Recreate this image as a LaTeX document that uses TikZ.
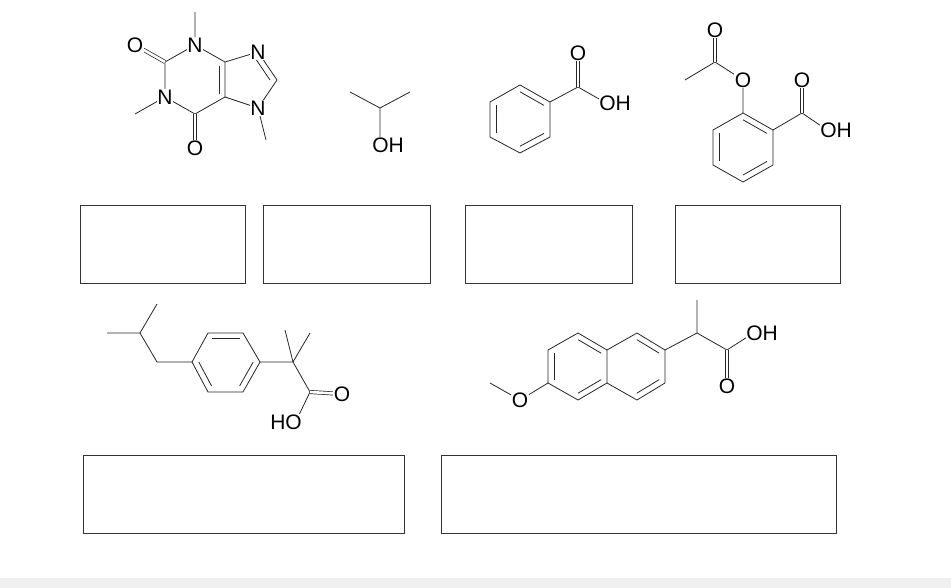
\documentclass[tikz,border=0pt]{standalone}
\usepackage{fontspec}
\setmainfont{Liberation Sans}
\usetikzlibrary{calc}
\begin{document}
\begin{tikzpicture}[x=1pt,y=-1pt,line width=0.8pt,
  bd/.style={draw=black!85},
  dbl/.style={draw=black!85,double,double distance=2.6pt,line width=0.7pt},
  lab/.style={fill=white,inner sep=0.6pt,font=\fontsize{21}{21}\selectfont},
  ansbox/.style={draw=black!80,line width=0.8pt}]
\useasboundingbox (0,0) rectangle (951,588);
\fill[black!6] (0,578) rectangle (951,588);
% boxes
\draw[ansbox] (80,205) rectangle (245,283);
\draw[ansbox] (263,205) rectangle (430,283);
\draw[ansbox] (465,205) rectangle (632,283);
\draw[ansbox] (675,205) rectangle (840,283);
\draw[ansbox] (83,455) rectangle (404,533);
\draw[ansbox] (441,455) rectangle (836,533);
% ===== caffeine
\coordinate (C2) at (165,62); \coordinate (N3) at (195,45); \coordinate (C4) at (225,62);
\coordinate (C5) at (225,97); \coordinate (C6) at (195,114); \coordinate (N1) at (165,97);
\coordinate (N9) at (258,52); \coordinate (C8) at (277,80); \coordinate (N7) at (258,108);
\coordinate (O2) at (135,45); \coordinate (O6) at (195,148);
\coordinate (M3) at (195,12); \coordinate (M1) at (135,114); \coordinate (M7) at (266,140);
\coordinate (cf) at (195,80); \coordinate (cg) at (249,80);
\draw[bd] (C2)--(N3)--(C4)--(C5)--(C6)--(N1)--(C2);
\draw[bd] (C4)--(N9)--(C8)--(N7)--(C5);
\draw[bd] (N3)--(M3) (N1)--(M1) (N7)--(M7);
\draw[dbl] (C2)--(O2); \draw[dbl] (C6)--(O6);
\draw[bd] ($(C4)!0.2!(cf)$)--($(C5)!0.2!(cf)$);
\draw[bd] ($(N9)!0.25!(cg)$)--($(C8)!0.25!(cg)$);
\node[lab] (lN3) at (N3) {N}; \node[lab] (lN1) at (N1) {N};
\node[lab] (lN9) at (N9) {N}; \node[lab] (lN7) at (N7) {N};
\node[lab] (lO2) at (O2) {O}; \node[lab] (lO6) at (O6) {O};
% ===== isopropanol
\coordinate (ia) at (350,92); \coordinate (ib) at (380,108); \coordinate (ic) at (410,92);
\coordinate (io) at (380,140);
\draw[bd] (ia)--(ib)--(ic) (ib)--(io);
\node[lab] (lio) at (388,145) {OH};
% ===== benzoic acid
\coordinate (b1) at (520,85); \coordinate (b2) at (550,102); \coordinate (b3) at (550,137);
\coordinate (b4) at (520,153); \coordinate (b5) at (490,137); \coordinate (b6) at (490,102);
\coordinate (bc) at (520,119);
\coordinate (bC) at (578,87); \coordinate (bO) at (578,53); \coordinate (bOH) at (606,103);
\draw[bd] (b1)--(b2)--(b3)--(b4)--(b5)--(b6)--(b1);
\draw[bd] ($(b1)!0.2!(bc)$)--($(b2)!0.2!(bc)$);
\draw[bd] ($(b3)!0.2!(bc)$)--($(b4)!0.2!(bc)$);
\draw[bd] ($(b5)!0.2!(bc)$)--($(b6)!0.2!(bc)$);
\draw[bd] (b2)--(bC)--(bOH);
\draw[dbl] (bC)--(bO);
\node[lab] (lbO) at (bO) {O}; \node[lab] (lbOH) at (615,103) {OH};
% ===== aspirin
\coordinate (a1) at (743,113); \coordinate (a2) at (773,130); \coordinate (a3) at (773,165);
\coordinate (a4) at (743,182); \coordinate (a5) at (713,165); \coordinate (a6) at (713,130);
\coordinate (ac) at (743,147);
\coordinate (aOe) at (743,80); \coordinate (aCa) at (715,62); \coordinate (aOa) at (715,30);
\coordinate (aMe) at (685,80); \coordinate (aCb) at (802,113); \coordinate (aOb) at (802,80);
\coordinate (aOH) at (827,130);
\draw[bd] (a1)--(a2)--(a3)--(a4)--(a5)--(a6)--(a1);
\draw[bd] ($(a1)!0.2!(ac)$)--($(a2)!0.2!(ac)$);
\draw[bd] ($(a3)!0.2!(ac)$)--($(a4)!0.2!(ac)$);
\draw[bd] ($(a5)!0.2!(ac)$)--($(a6)!0.2!(ac)$);
\draw[bd] (a1)--(aOe)--(aCa)--(aMe);
\draw[dbl] (aCa)--(aOa);
\draw[bd] (a2)--(aCb)--(aOH);
\draw[dbl] (aCb)--(aOb);
\node[lab] (laOe) at (aOe) {O}; \node[lab] (laOa) at (aOa) {O};
\node[lab] (laOb) at (aOb) {O}; \node[lab] (laOH) at (836,130) {OH};
% ===== ibuprofen analogue
\coordinate (u1) at (107,333); \coordinate (u2) at (140,333); \coordinate (u3) at (157,304);
\coordinate (u4) at (157,362);
\coordinate (r1) at (192,362); \coordinate (r2) at (208,333); \coordinate (r3) at (243,333);
\coordinate (r4) at (260,362); \coordinate (r5) at (243,392); \coordinate (r6) at (208,392);
\coordinate (rc) at (226,362);
\coordinate (q) at (293,362); \coordinate (qm1) at (285,330); \coordinate (qm2) at (310,333);
\coordinate (qC) at (310,392); \coordinate (qO) at (342,394); \coordinate (qOH) at (298,417);
\draw[bd] (u1)--(u2)--(u3) (u2)--(u4)--(r1);
\draw[bd] (r1)--(r2)--(r3)--(r4)--(r5)--(r6)--(r1);
\draw[bd] ($(r2)!0.2!(rc)$)--($(r3)!0.2!(rc)$);
\draw[bd] ($(r4)!0.2!(rc)$)--($(r5)!0.2!(rc)$);
\draw[bd] ($(r6)!0.2!(rc)$)--($(r1)!0.2!(rc)$);
\draw[bd] (r4)--(q)--(qm1) (q)--(qm2) (q)--(qC)--(qOH);
\draw[dbl] (qC)--(qO);
\node[lab] (lqO) at (qO) {O}; \node[lab] (lqOH) at (286,422) {HO};
% ===== naproxen
\coordinate (n1) at (665,350); \coordinate (n2) at (637,333); \coordinate (n3) at (607,350);
\coordinate (n4) at (607,383); \coordinate (n5) at (637,400); \coordinate (n6) at (665,383);
\coordinate (m2) at (578,333); \coordinate (m3) at (548,350); \coordinate (m4) at (548,383);
\coordinate (m5) at (578,400);
\coordinate (nc) at (636,366); \coordinate (mc) at (578,366);
\coordinate (nO) at (520,400); \coordinate (nMe) at (490,383);
\coordinate (nCH) at (697,333); \coordinate (nM) at (697,300); \coordinate (nC) at (727,350);
\coordinate (nOH) at (752,334); \coordinate (nOd) at (727,386);
\draw[bd] (n1)--(n2)--(n3)--(n4)--(n5)--(n6)--(n1);
\draw[bd] (n3)--(m2)--(m3)--(m4)--(m5)--(n4);
\draw[bd] ($(n1)!0.2!(nc)$)--($(n2)!0.2!(nc)$);
\draw[bd] ($(n5)!0.2!(nc)$)--($(n6)!0.2!(nc)$);
\draw[bd] ($(m2)!0.2!(mc)$)--($(n3)!0.2!(mc)$);
\draw[bd] ($(m3)!0.2!(mc)$)--($(m4)!0.2!(mc)$);
\draw[bd] ($(m5)!0.2!(mc)$)--($(n4)!0.2!(mc)$);
\draw[bd] (m4)--(nO)--(nMe);
\draw[bd] (n1)--(nCH)--(nM) (nCH)--(nC)--(nOH);
\draw[dbl] (nC)--(nOd);
\node[lab] (lnO) at (nO) {O}; \node[lab] (lnOH) at (762,333) {OH};
\node[lab] (lnOd) at (nOd) {O};
\end{tikzpicture}
\end{document}
